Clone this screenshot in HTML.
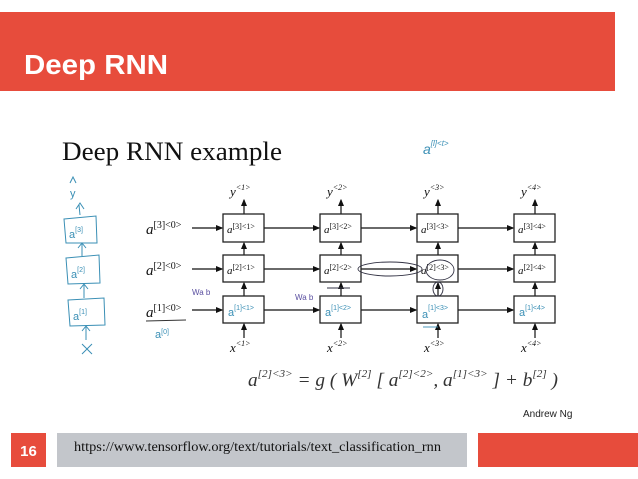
<!DOCTYPE html>
<html><head><meta charset="utf-8"><style>
body{margin:0;width:638px;height:479px;background:#fff;overflow:hidden;font-family:"Liberation Sans",sans-serif}
svg{position:absolute;left:0;top:0}
</style></head><body>
<svg width="638" height="479" viewBox="0 0 638 479" xmlns="http://www.w3.org/2000/svg">
<defs><marker id="ar" markerWidth="6" markerHeight="6" refX="5" refY="3" orient="auto"><path d="M0,0.5 L6,3 L0,5.5z" fill="#111"/></marker></defs>
<rect x="0" y="12" width="615" height="79" fill="#e74c3c"/>
<text x="24" y="74" font-size="28" font-weight="bold" fill="#fff" textLength="144" lengthAdjust="spacingAndGlyphs">Deep RNN</text>
<text x="62" y="160" font-family="Liberation Serif" font-size="26" fill="#111" textLength="220" lengthAdjust="spacingAndGlyphs">Deep RNN example</text>
<text x="423" y="154" font-size="14" fill="#3a8fb5" font-style="italic">a<tspan font-size="8" dy="-8">[l]&lt;t&gt;</tspan></text>
<g font-family="Liberation Serif" font-style="italic" fill="#111">
<g font-size="13">
<text x="230" y="196">y<tspan font-size="8" dy="-6">&lt;1&gt;</tspan></text>
<text x="327" y="196">y<tspan font-size="8" dy="-6">&lt;2&gt;</tspan></text>
<text x="424" y="196">y<tspan font-size="8" dy="-6">&lt;3&gt;</tspan></text>
<text x="521" y="196">y<tspan font-size="8" dy="-6">&lt;4&gt;</tspan></text>
<text x="230" y="352">x<tspan font-size="8" dy="-6">&lt;1&gt;</tspan></text>
<text x="327" y="352">x<tspan font-size="8" dy="-6">&lt;2&gt;</tspan></text>
<text x="424" y="352">x<tspan font-size="8" dy="-6">&lt;3&gt;</tspan></text>
<text x="521" y="352">x<tspan font-size="8" dy="-6">&lt;4&gt;</tspan></text>
</g>
<g font-size="15">
<text x="146" y="234">a<tspan font-size="10" dy="-6" font-style="normal">[3]&lt;0&gt;</tspan></text>
<text x="146" y="275">a<tspan font-size="10" dy="-6" font-style="normal">[2]&lt;0&gt;</tspan></text>
<text x="146" y="317">a<tspan font-size="10" dy="-6" font-style="normal">[1]&lt;0&gt;</tspan></text>
</g>
</g>
<line x1="146" y1="321" x2="186" y2="320" stroke="#333"/>
<text x="155" y="338" font-size="11" fill="#3a8fb5">a<tspan font-size="7" dy="-4">[0]</tspan></text>
<g stroke="#111" stroke-width="1.2" fill="none" marker-end="url(#ar)">
<line x1="192" y1="228" x2="222" y2="228"/><line x1="192" y1="269" x2="222" y2="269"/><line x1="192" y1="310" x2="222" y2="310"/>
<line x1="264" y1="228" x2="319" y2="228"/><line x1="361" y1="228" x2="416" y2="228"/><line x1="458" y1="228" x2="513" y2="228"/>
<line x1="264" y1="269" x2="319" y2="269"/><line x1="361" y1="269" x2="416" y2="269"/><line x1="458" y1="269" x2="513" y2="269"/>
<line x1="264" y1="310" x2="319" y2="310"/><line x1="361" y1="310" x2="416" y2="310"/><line x1="458" y1="310" x2="513" y2="310"/>
<line x1="244" y1="214" x2="244" y2="200"/><line x1="341" y1="214" x2="341" y2="200"/><line x1="438" y1="214" x2="438" y2="200"/><line x1="535" y1="214" x2="535" y2="200"/>
<line x1="244" y1="255" x2="244" y2="243"/><line x1="341" y1="255" x2="341" y2="243"/><line x1="438" y1="255" x2="438" y2="243"/><line x1="535" y1="255" x2="535" y2="243"/>
<line x1="244" y1="296" x2="244" y2="283"/><line x1="341" y1="296" x2="341" y2="283"/><line x1="438" y1="296" x2="438" y2="283"/><line x1="535" y1="296" x2="535" y2="283"/>
<line x1="244" y1="338" x2="244" y2="324"/><line x1="341" y1="338" x2="341" y2="324"/><line x1="438" y1="338" x2="438" y2="324"/><line x1="535" y1="338" x2="535" y2="324"/>
</g>
<g stroke="#222" stroke-width="1.3" fill="#fff">
<rect x="223" y="214" width="41" height="28"/><rect x="320" y="214" width="41" height="28"/><rect x="417" y="214" width="41" height="28"/><rect x="514" y="214" width="41" height="28"/>
<rect x="223" y="255" width="41" height="27"/><rect x="320" y="255" width="41" height="27"/><rect x="417" y="255" width="41" height="27"/><rect x="514" y="255" width="41" height="27"/>
<rect x="223" y="296" width="41" height="27"/><rect x="320" y="296" width="41" height="27"/><rect x="417" y="296" width="41" height="27"/><rect x="514" y="296" width="41" height="27"/>
</g>
<g font-family="Liberation Serif" font-size="11" fill="#111">
<text x="227" y="233"><tspan font-style="italic">a</tspan><tspan font-size="8" dy="-4">[3]&lt;1&gt;</tspan></text>
<text x="324" y="233"><tspan font-style="italic">a</tspan><tspan font-size="8" dy="-4">[3]&lt;2&gt;</tspan></text>
<text x="421" y="233"><tspan font-style="italic">a</tspan><tspan font-size="8" dy="-4">[3]&lt;3&gt;</tspan></text>
<text x="518" y="233"><tspan font-style="italic">a</tspan><tspan font-size="8" dy="-4">[3]&lt;4&gt;</tspan></text>
<text x="227" y="274"><tspan font-style="italic">a</tspan><tspan font-size="8" dy="-4">[2]&lt;1&gt;</tspan></text>
<text x="324" y="274"><tspan font-style="italic">a</tspan><tspan font-size="8" dy="-4">[2]&lt;2&gt;</tspan></text>
<text x="421" y="274"><tspan font-style="italic">a</tspan><tspan font-size="8" dy="-4">[2]&lt;3&gt;</tspan></text>
<text x="518" y="274"><tspan font-style="italic">a</tspan><tspan font-size="8" dy="-4">[2]&lt;4&gt;</tspan></text>
</g>
<g font-size="11" fill="#3a8fb5">
<text x="228" y="316">a<tspan font-size="7" dy="-6">[1]&lt;1&gt;</tspan></text>
<text x="325" y="316">a<tspan font-size="7" dy="-6">[1]&lt;2&gt;</tspan></text>
<text x="422" y="318">a<tspan font-size="7" dy="-8">[1]&lt;3&gt;</tspan></text>
<text x="519" y="316">a<tspan font-size="7" dy="-6">[1]&lt;4&gt;</tspan></text>
</g>
<g stroke="#334" fill="none" stroke-width="0.9">
<ellipse cx="390" cy="269" rx="32" ry="7"/>
<ellipse cx="440" cy="270" rx="14" ry="10"/>
<ellipse cx="438" cy="289" rx="5" ry="7"/>
<line x1="327" y1="288" x2="350" y2="288"/>
<line x1="423" y1="327" x2="438" y2="327" stroke="#3a8fb5"/>
</g>
<text x="192" y="295" font-size="8" fill="#5a4fa0">Wa b</text>
<text x="295" y="300" font-size="8" fill="#5a4fa0">Wa b</text>
<g stroke="#3a8fb5" fill="none" stroke-width="1">
<path d="M64 219 L96 216 L97 243 L66 243 Z"/>
<path d="M66 258 L99 255 L100 283 L68 284 Z"/>
<path d="M68 300 L104 298 L105 325 L70 326 Z"/>
<path d="M80 215 L79 205 M76 209 L80 203 L84 209"/>
<path d="M82 256 L82 244 M78 248 L82 243 L86 248"/>
<path d="M84 298 L84 285 M80 289 L84 284 L88 289"/>
<path d="M86 340 L86 327 M82 331 L86 326 L90 331"/>
<path d="M82 344 L92 354 M92 344 L82 354"/>
<path d="M70 183 L73 177 L76 183"/>
</g>
<g font-size="11" fill="#3a8fb5">
<text x="70" y="197">y</text>
<text x="69" y="238">a<tspan font-size="7" dy="-6">[3]</tspan></text>
<text x="71" y="278">a<tspan font-size="7" dy="-6">[2]</tspan></text>
<text x="73" y="320">a<tspan font-size="7" dy="-6">[1]</tspan></text>
</g>
<text x="248" y="386" font-size="19" fill="#333" font-family="Liberation Serif" font-style="italic" textLength="310" lengthAdjust="spacingAndGlyphs">a<tspan font-size="11" dy="-9">[2]&lt;3&gt;</tspan><tspan dy="9"> = g ( W</tspan><tspan font-size="11" dy="-9">[2]</tspan><tspan dy="9"> [ a</tspan><tspan font-size="11" dy="-9">[2]&lt;2&gt;</tspan><tspan dy="9">, a</tspan><tspan font-size="11" dy="-9">[1]&lt;3&gt;</tspan><tspan dy="9"> ] + b</tspan><tspan font-size="11" dy="-9">[2]</tspan><tspan dy="9"> )</tspan></text>
<text x="523" y="417" font-size="10" fill="#222">Andrew Ng</text>
<rect x="11" y="433" width="35" height="34" fill="#e74c3c"/>
<text x="28.5" y="456" font-size="15" font-weight="bold" fill="#fff" text-anchor="middle">16</text>
<rect x="57" y="433" width="410" height="34" fill="#c3c6cb"/>
<text x="74" y="451" font-family="Liberation Serif" font-size="14" fill="#111" textLength="367" lengthAdjust="spacingAndGlyphs">https://www.tensorflow.org/text/tutorials/text_classification_rnn</text>
<rect x="478" y="433" width="160" height="34" fill="#e74c3c"/>
</svg>
</body></html>
